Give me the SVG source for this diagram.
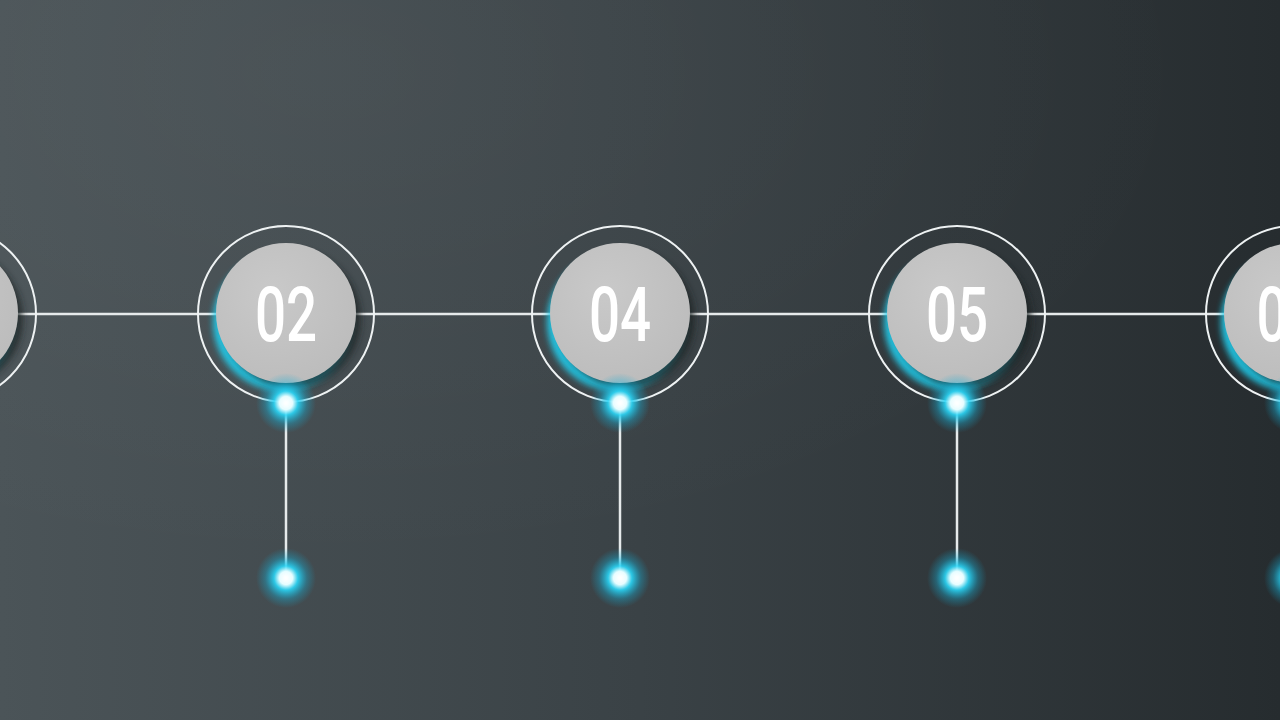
<svg xmlns="http://www.w3.org/2000/svg" width="1280" height="720" viewBox="0 0 1280 720">
<defs>
<linearGradient id="bg" x1="0" y1="0" x2="1" y2="0">
<stop offset="0" stop-color="#4b5458"/>
<stop offset="0.5" stop-color="#3a4246"/>
<stop offset="1" stop-color="#262c2f"/>
</linearGradient>
<radialGradient id="bgHi" cx="0.25" cy="0.1" r="0.7">
<stop offset="0" stop-color="#ffffff" stop-opacity="0.04"/>
<stop offset="1" stop-color="#ffffff" stop-opacity="0"/>
</radialGradient>
<radialGradient id="disc" cx="0.4" cy="0.35" r="0.7">
<stop offset="0" stop-color="#c9c9c9"/>
<stop offset="1" stop-color="#bcbcbc"/>
</radialGradient>
<radialGradient id="glow">
<stop offset="0" stop-color="#ffffff"/>
<stop offset="0.22" stop-color="#e0fcff"/>
<stop offset="0.4" stop-color="#2ad6f7" stop-opacity="0.9"/>
<stop offset="0.7" stop-color="#15b4dc" stop-opacity="0.35"/>
<stop offset="1" stop-color="#10a8d0" stop-opacity="0"/>
</radialGradient>
<filter id="blur2" x="-50%" y="-50%" width="200%" height="200%">
<feGaussianBlur stdDeviation="3"/>
</filter>
<style>
.ring{fill:none;stroke:#eef2f3;stroke-width:2}
.line{stroke:#e6eaeb;stroke-width:2.5}
.num{font-family:Roboto,"Liberation Sans",sans-serif;font-size:76px;font-weight:500;fill:#ffffff;text-anchor:middle}
</style>
<g id="nodeShape">
<circle cx="0" cy="0" r="88" class="ring"/>
<circle cx="-4" cy="8" r="69" fill="#20d0f0" filter="url(#blur2)" opacity="0.9"/>
<circle cx="6" cy="5" r="69" fill="#1c2124" filter="url(#blur2)" opacity="0.7"/>
<circle cx="0" cy="-1" r="70" fill="url(#disc)"/>
</g>
<g id="glowDot">
<circle cx="0" cy="0" r="30" fill="url(#glow)"/>
<circle cx="0" cy="0" r="6" fill="#ffffff" filter="url(#blur2)" opacity="0.6"/>
</g>
</defs>
<rect width="1280" height="720" fill="url(#bg)"/>
<rect width="1280" height="720" fill="url(#bgHi)"/>
<g id="connectors">
<line class="line" x1="0" y1="314" x2="1280" y2="314"/>
<line class="line" x1="286" y1="403" x2="286" y2="578"/>
<line class="line" x1="620" y1="403" x2="620" y2="578"/>
<line class="line" x1="957" y1="403" x2="957" y2="578"/>
</g>
<g id="node01">
<use href="#nodeShape" x="-52" y="314"/>
<use href="#glowDot" x="-52" y="403"/>
<use href="#glowDot" x="-52" y="578"/>
</g>
<g id="node02">
<use href="#nodeShape" x="286" y="314"/>
<text class="num" transform="translate(286,341) scale(0.72,1)">02</text>
<use href="#glowDot" x="286" y="403"/>
<use href="#glowDot" x="286" y="578"/>
</g>
<g id="node04">
<use href="#nodeShape" x="620" y="314"/>
<text class="num" transform="translate(620,341) scale(0.72,1)">04</text>
<use href="#glowDot" x="620" y="403"/>
<use href="#glowDot" x="620" y="578"/>
</g>
<g id="node05">
<use href="#nodeShape" x="957" y="314"/>
<text class="num" transform="translate(957,341) scale(0.72,1)">05</text>
<use href="#glowDot" x="957" y="403"/>
<use href="#glowDot" x="957" y="578"/>
</g>
<g id="node06">
<use href="#nodeShape" x="1294" y="314"/>
<text class="num" transform="translate(1272,341) scale(0.72,1)">0</text>
<use href="#glowDot" x="1294" y="403"/>
<use href="#glowDot" x="1294" y="578"/>
</g>
</svg>
